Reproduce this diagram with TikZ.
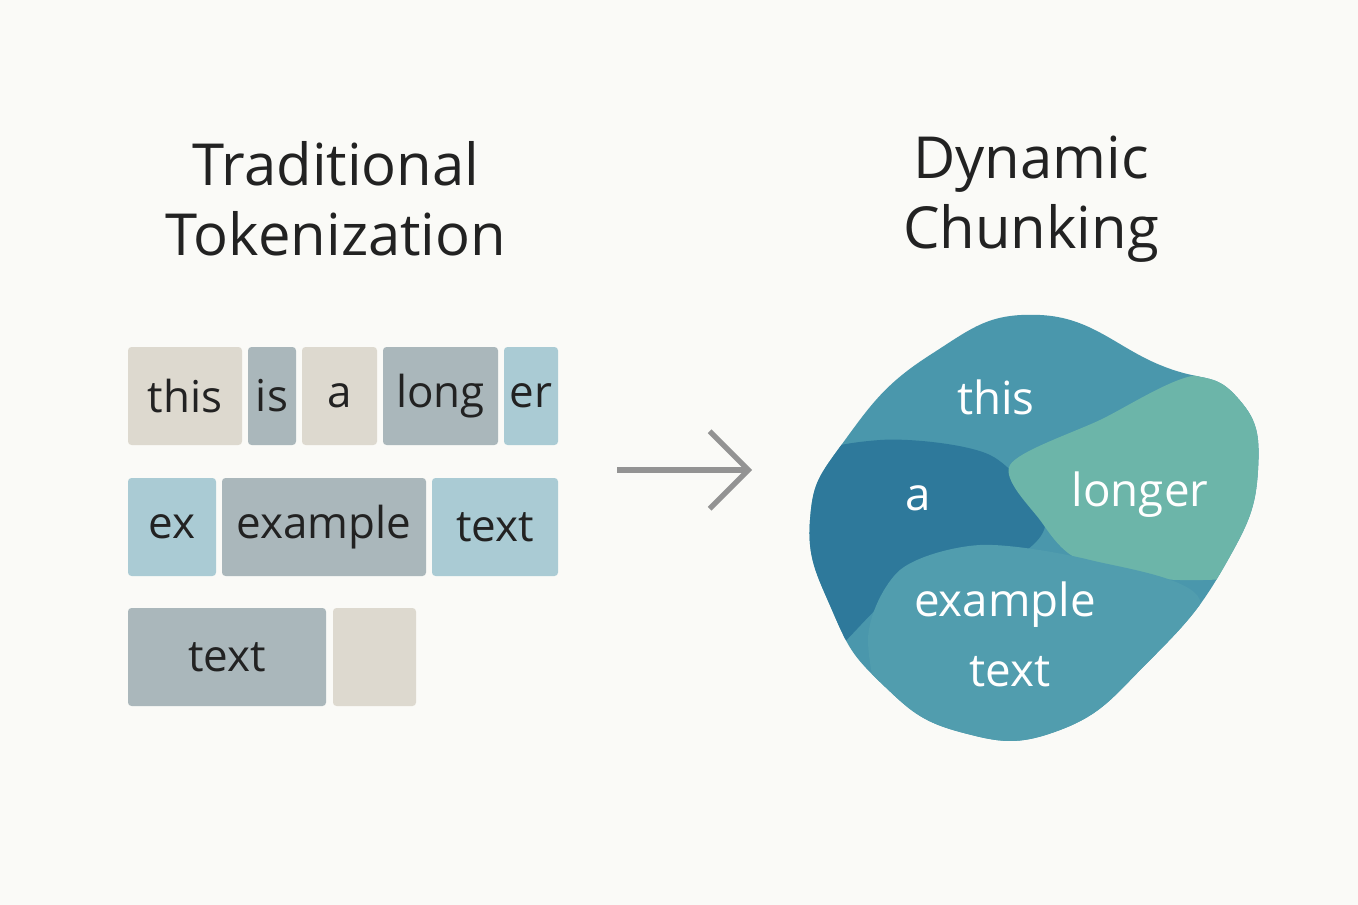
\documentclass[tikz,border=0pt]{standalone}
\usepackage{fontspec}
\setmainfont{Open Sans}
\usetikzlibrary{arrows.meta}
\definecolor{bg}{HTML}{FAFAF7}
\definecolor{tbeige}{HTML}{DDD9CF}
\definecolor{tgrey}{HTML}{AAB7BB}
\definecolor{tblue}{HTML}{AACBD4}
\definecolor{ink}{HTML}{222222}
\definecolor{bmid}{HTML}{4A97AC}
\definecolor{bdark}{HTML}{2E799B}
\definecolor{bgreen}{HTML}{6CB5A9}
\definecolor{blow}{HTML}{519DAE}
\tikzset{
  title/.style={text=ink, align=center, font=\fontsize{33}{40}\selectfont},
  tok/.style={text=ink, font=\fontsize{25}{30}\selectfont},
  blobtxt/.style={text=white, font=\fontsize{26}{30}\selectfont},
}
\begin{document}
\begin{tikzpicture}[x=0.02cm,y=-0.02cm]
  \fill[bg] (0,0) rectangle (1358,905);
  \useasboundingbox (0,0) rectangle (1358,905);

  % titles
  \node[title] (tl) at (336,199) {Traditional\\Tokenization};
  \node[title] (tr) at (1031,199) {Dynamic\\Chunking};

  % token boxes: x1/x2/y1/colour/text
  \foreach \xa/\xb/\ya/\col/\txt [count=\i] in {
      128/242/347/tbeige/this, 248/296/347/tgrey/is, 302/377/347/tbeige/a,
      383/498/347/tgrey/long, 504/558/347/tblue/er,
      128/216/478/tblue/ex, 222/426/478/tgrey/example, 432/558/478/tblue/text,
      128/326/608/tgrey/text, 333/416/608/tbeige/{}}{
    \fill[\col, rounded corners=2pt] (\xa,\ya) rectangle (\xb,\ya+98);
    \node[tok] (t\i) at ({(\xa+\xb)/2},\ya+49) {\txt};
  }

  % arrow
  \coordinate (a1) at (617,470);
  \coordinate (a2) at (752,470);
  \draw[gray!85, line width=3pt, -{Straight Barb[length=22pt,width=44pt,line width=3pt]}] (a1) -- (a2);

  % blob
  \begin{scope}
    \clip plot[smooth cycle, tension=0.8] coordinates {
      (1040,315) (1160,365) (1235,395) (1258,470) (1225,565) (1150,660)
      (1060,730) (960,732) (880,682) (832,610) (810,520) (845,440) (930,355)};
    \fill[bmid] (780,300) rectangle (1280,760);
    \fill[bdark] plot[smooth cycle] coordinates {
      (790,470) (880,440) (990,455) (1045,520) (1010,560) (900,590) (820,660) (780,600)};
    \fill[bgreen] plot[smooth cycle] coordinates {
      (1010,465) (1100,420) (1200,375) (1275,420) (1270,560) (1180,580) (1080,560) (1040,520)};
    \fill[blow] plot[smooth cycle] coordinates {
      (868,640) (900,570) (980,545) (1090,560) (1200,600) (1150,720) (1020,770) (900,740)};
  \end{scope}
  \node[blobtxt] (b1) at (996,397) {this};
  \node[blobtxt] (b2) at (918,498) {a};
  \node[blobtxt] (b3) at (1140,495) {longer};
  \node[blobtxt] (b4) at (1005,605) {example};
  \node[blobtxt] (b5) at (1010,672) {text};
\end{tikzpicture}
\end{document}
